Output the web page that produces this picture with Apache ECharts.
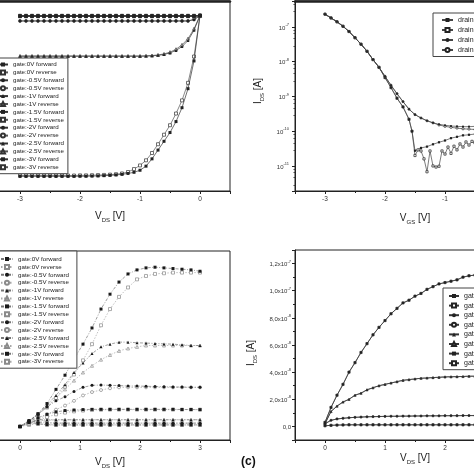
<!DOCTYPE html>
<html><head><meta charset="utf-8">
<script src="https://cdn.jsdelivr.net/npm/echarts@6/dist/echarts.min.js"></script>
<style>html,body{margin:0;padding:0;background:#fff}#c{width:474px;height:474px}</style>
</head><body><div id="c"></div>
<script>
// ---------- Panel A : output curves, negative V_DS (y axis off-picture) ----------
const aV = [-3.0,-2.9,-2.8,-2.7,-2.6,-2.5,-2.4,-2.3,-2.2,-2.1,-2.0,-1.9,-1.8,-1.7,-1.6,-1.5,-1.4,-1.3,-1.2,-1.1,-1.0,-0.9,-0.8,-0.7,-0.6,-0.5,-0.4,-0.3,-0.2,-0.1,0.0];
const aG0F  = [-0.01,-0.01,-0.01,-0.01,-0.01,-0.01,-0.01,-0.01,-0.01,-0.01,-0.01,-0.01,-0.01,-0.01,-0.01,-0.01,-0.01,-0.01,-0.01,-0.01,-0.01,-0.01,-0.01,-0.01,-0.01,-0.01,-0.01,-0.01,-0.01,-0.01,0];
const aG0R  = [-0.01,-0.01,-0.01,-0.01,-0.01,-0.01,-0.01,-0.01,-0.01,-0.01,-0.01,-0.01,-0.01,-0.01,-0.01,-0.01,-0.01,-0.01,-0.01,-0.01,-0.01,-0.01,-0.01,-0.01,-0.01,-0.01,-0.01,-0.01,-0.01,-0.01,0];
const aG05F = [-0.02,-0.02,-0.02,-0.02,-0.02,-0.02,-0.02,-0.02,-0.02,-0.02,-0.02,-0.02,-0.02,-0.02,-0.02,-0.02,-0.02,-0.02,-0.02,-0.02,-0.02,-0.02,-0.02,-0.02,-0.02,-0.02,-0.02,-0.02,-0.02,-0.02,0];
const aG05R = [-0.02,-0.02,-0.02,-0.02,-0.02,-0.02,-0.02,-0.02,-0.02,-0.02,-0.02,-0.02,-0.02,-0.02,-0.02,-0.02,-0.02,-0.02,-0.02,-0.02,-0.02,-0.02,-0.02,-0.02,-0.02,-0.02,-0.02,-0.02,-0.02,-0.02,0];
const aG1F  = [-0.03,-0.03,-0.03,-0.03,-0.03,-0.03,-0.03,-0.03,-0.03,-0.03,-0.03,-0.03,-0.03,-0.03,-0.03,-0.03,-0.03,-0.03,-0.03,-0.03,-0.03,-0.03,-0.03,-0.03,-0.03,-0.03,-0.03,-0.03,-0.03,-0.03,0];
const aG1R  = [-0.03,-0.03,-0.03,-0.03,-0.03,-0.03,-0.03,-0.03,-0.03,-0.03,-0.03,-0.03,-0.03,-0.03,-0.03,-0.03,-0.03,-0.03,-0.03,-0.03,-0.03,-0.03,-0.03,-0.03,-0.03,-0.03,-0.03,-0.03,-0.03,-0.03,0];
const aG15F = [-0.04,-0.04,-0.04,-0.04,-0.04,-0.04,-0.04,-0.04,-0.04,-0.04,-0.04,-0.04,-0.04,-0.04,-0.04,-0.04,-0.04,-0.04,-0.04,-0.04,-0.04,-0.04,-0.04,-0.04,-0.04,-0.04,-0.04,-0.04,-0.04,-0.04,0];
const aG15R = [-0.04,-0.04,-0.04,-0.04,-0.04,-0.04,-0.04,-0.04,-0.04,-0.04,-0.04,-0.04,-0.04,-0.04,-0.04,-0.04,-0.04,-0.04,-0.04,-0.04,-0.04,-0.04,-0.04,-0.04,-0.04,-0.04,-0.04,-0.04,-0.04,-0.04,0];
const aG2F  = [-0.37,-0.37,-0.37,-0.37,-0.37,-0.37,-0.37,-0.37,-0.37,-0.37,-0.37,-0.37,-0.37,-0.37,-0.37,-0.37,-0.37,-0.37,-0.37,-0.37,-0.37,-0.37,-0.37,-0.37,-0.37,-0.37,-0.37,-0.37,-0.37,-0.28,0];
const aG2R  = [-0.36,-0.36,-0.36,-0.36,-0.36,-0.36,-0.36,-0.36,-0.36,-0.36,-0.36,-0.36,-0.36,-0.36,-0.36,-0.36,-0.36,-0.36,-0.36,-0.36,-0.36,-0.36,-0.36,-0.36,-0.36,-0.36,-0.36,-0.36,-0.36,-0.25,0];
const aG25F = [-2.78,-2.78,-2.78,-2.78,-2.78,-2.78,-2.78,-2.78,-2.78,-2.78,-2.78,-2.78,-2.78,-2.78,-2.78,-2.78,-2.78,-2.78,-2.78,-2.78,-2.78,-2.77,-2.75,-2.72,-2.66,-2.55,-2.38,-2.12,-1.7,-1.0,0];
const aG25R = [-2.76,-2.76,-2.76,-2.76,-2.76,-2.76,-2.76,-2.76,-2.76,-2.76,-2.76,-2.76,-2.76,-2.76,-2.76,-2.76,-2.76,-2.76,-2.76,-2.76,-2.76,-2.75,-2.73,-2.69,-2.62,-2.5,-2.3,-2.0,-1.58,-0.9,0];
const aG3F  = [-11.0,-11.0,-11.0,-11.0,-11.0,-11.0,-11.0,-11.0,-11.0,-11.0,-10.99,-10.99,-10.98,-10.97,-10.95,-10.93,-10.9,-10.86,-10.8,-10.72,-10.58,-10.3,-9.8,-9.2,-8.6,-8.0,-7.25,-6.3,-5.0,-3.1,0];
const aG3R  = [-10.94,-10.94,-10.94,-10.94,-10.94,-10.94,-10.94,-10.94,-10.94,-10.94,-10.93,-10.93,-10.92,-10.91,-10.9,-10.88,-10.85,-10.8,-10.7,-10.5,-10.25,-9.9,-9.4,-8.8,-8.15,-7.5,-6.7,-5.8,-4.6,-2.8,0];

// ---------- Panel B : transfer curves (log current) ----------
const bVshared = [-3.0,-2.9,-2.8,-2.7,-2.6,-2.5,-2.4,-2.3,-2.2,-2.1];
const bIshared = [2.34e-7,1.82e-7,1.41e-7,1.05e-7,7.4e-8,4.9e-8,3.2e-8,2.0e-8,1.15e-8,6.9e-9];
const bVup  = [-2.0,-1.9,-1.8,-1.7,-1.6,-1.5,-1.4,-1.3,-1.2,-1.1,-1.0,-0.9,-0.8,-0.7,-0.6,-0.5,-0.4,-0.3,-0.2,-0.1,0.0];
const bIupF = [3.8e-9,2.1e-9,1.2e-9,7.1e-10,4.3e-10,3.0e-10,2.4e-10,2.0e-10,1.74e-10,1.58e-10,1.48e-10,1.41e-10,1.38e-10,1.35e-10,1.35e-10,1.38e-10,1.41e-10,1.45e-10,1.48e-10,1.51e-10,1.58e-10];
const bIupR = [3.8e-9,2.1e-9,1.2e-9,7.1e-10,4.3e-10,3.0e-10,2.4e-10,2.0e-10,1.74e-10,1.51e-10,1.38e-10,1.29e-10,1.23e-10,1.17e-10,1.15e-10,1.12e-10,1.12e-10,1.12e-10,1.15e-10,1.17e-10,1.2e-10];
const bVlow = [-2.0,-1.9,-1.8,-1.7,-1.6,-1.55];
const bIlow = [3.5e-9,1.8e-9,8.9e-10,5.0e-10,2.2e-10,1.0e-10];
const bVsqF = [-1.5,-1.4,-1.3,-1.2,-1.1,-1.0,-0.9,-0.8,-0.7,-0.6,-0.5,-0.4,-0.3,-0.2,-0.1,0.0];
const bIsqF = [2.75e-11,3.3e-11,3.6e-11,4.2e-11,4.8e-11,5.4e-11,6.3e-11,6.9e-11,7.6e-11,7.9e-11,8.3e-11,8.7e-11,9.1e-11,9.5e-11,1.0e-10,1.05e-10];
const bVsqR = [-1.5,-1.45,-1.4,-1.35,-1.3,-1.25,-1.2,-1.15,-1.1,-1.05,-1.0,-0.95,-0.9,-0.85,-0.8,-0.75,-0.7,-0.65,-0.6,-0.55,-0.5,-0.4,-0.3,-0.2,-0.1,0.0];
const bIsqR = [2.0e-11,2.9e-11,2.7e-11,1.6e-11,6.8e-12,2.7e-11,1.0e-11,9.3e-12,9.8e-12,2.7e-11,2.2e-11,3.5e-11,2.3e-11,3.7e-11,2.9e-11,4.3e-11,3.5e-11,4.9e-11,4.0e-11,5.1e-11,4.6e-11,5.2e-11,5.8e-11,6.3e-11,6.8e-11,7.2e-11];

// ---------- Panel C : output curves, positive V_DS (values in 1e-7 A) ----------
const cV = [0,0.15,0.3,0.45,0.6,0.75,0.9,1.05,1.2,1.35,1.5,1.65,1.8,1.95,2.1,2.25,2.4,2.55,2.7,2.85,3.0];
const cG0F  = [0,0.03,0.02,0.014,0.012,0.012,0.012,0.012,0.012,0.012,0.012,0.012,0.012,0.012,0.012,0.012,0.012,0.012,0.012,0.012,0.012];
const cG0R  = [0,0.012,0.02,0.012,0.011,0.011,0.011,0.011,0.011,0.011,0.011,0.011,0.011,0.011,0.011,0.011,0.011,0.011,0.011,0.011,0.011];
const cG05F = [0,0.045,0.03,0.026,0.025,0.025,0.025,0.025,0.025,0.025,0.025,0.025,0.025,0.025,0.025,0.025,0.025,0.025,0.025,0.025,0.025];
const cG05R = [0,0.02,0.06,0.03,0.025,0.025,0.025,0.025,0.025,0.025,0.025,0.025,0.025,0.025,0.025,0.025,0.025,0.025,0.025,0.025,0.025];
const cG1F  = [0,0.03,0.05,0.05,0.05,0.05,0.05,0.05,0.05,0.05,0.05,0.05,0.05,0.05,0.05,0.05,0.05,0.05,0.05,0.05,0.05];
const cG1R  = [0,0.02,0.035,0.045,0.05,0.05,0.05,0.05,0.05,0.05,0.05,0.05,0.05,0.05,0.05,0.05,0.05,0.05,0.05,0.05,0.05];
const cG15F = [0,0.04,0.065,0.09,0.108,0.118,0.122,0.125,0.127,0.127,0.127,0.127,0.127,0.127,0.127,0.127,0.127,0.127,0.126,0.126,0.125];
const cG15R = [0,0.02,0.045,0.07,0.09,0.103,0.112,0.118,0.122,0.124,0.125,0.125,0.125,0.125,0.125,0.125,0.125,0.125,0.125,0.125,0.125];
const cG2F  = [0,0.04,0.09,0.145,0.19,0.22,0.26,0.29,0.305,0.307,0.305,0.303,0.30,0.30,0.298,0.296,0.295,0.293,0.292,0.291,0.29];
const cG2R  = [0,0.02,0.05,0.09,0.125,0.155,0.19,0.23,0.255,0.27,0.283,0.29,0.29,0.29,0.29,0.29,0.29,0.29,0.29,0.29,0.29];
const cG25F = [0,0.04,0.09,0.16,0.23,0.31,0.40,0.47,0.54,0.59,0.61,0.625,0.625,0.62,0.618,0.615,0.612,0.61,0.605,0.60,0.60];
const cG25R = [0,0.03,0.09,0.15,0.21,0.275,0.34,0.40,0.45,0.495,0.53,0.56,0.578,0.59,0.60,0.60,0.60,0.60,0.60,0.60,0.60];
const cG3F  = [0,0.04,0.095,0.17,0.275,0.38,0.50,0.61,0.73,0.87,0.98,1.07,1.13,1.16,1.175,1.18,1.175,1.17,1.165,1.16,1.15];
const cG3R  = [0,0.04,0.09,0.14,0.21,0.295,0.385,0.49,0.61,0.75,0.87,0.96,1.03,1.09,1.115,1.13,1.135,1.14,1.14,1.14,1.14];

// ---------- Panel D : output curves (values in 1e-7 A) ----------
const dV = [0,0.1,0.2,0.3,0.4,0.5,0.6,0.7,0.8,0.9,1.0,1.1,1.2,1.3,1.4,1.5,1.6,1.7,1.8,1.9,2.0,2.1,2.2,2.3,2.4,2.5,2.6,2.7,2.8,2.9,3.0];
const dG0 = [0.005,0.008,0.01,0.011,0.012,0.012,0.012,0.012,0.012,0.012,0.012,0.012,0.012,0.012,0.012,0.012,0.012,0.012,0.012,0.012,0.012,0.012,0.012,0.012,0.012,0.012,0.012,0.012,0.012,0.012,0.012];
const dG1 = [0.02,0.045,0.055,0.06,0.064,0.067,0.069,0.071,0.072,0.073,0.074,0.075,0.075,0.076,0.076,0.077,0.077,0.078,0.078,0.078,0.079,0.079,0.079,0.08,0.08,0.08,0.08,0.08,0.08,0.08,0.08];
const dG2 = [0.02,0.11,0.15,0.18,0.20,0.23,0.245,0.27,0.285,0.30,0.31,0.32,0.33,0.34,0.345,0.35,0.355,0.357,0.36,0.362,0.365,0.366,0.367,0.368,0.37,0.37,0.37,0.37,0.37,0.37,0.37];
const dG3 = [0.03,0.14,0.23,0.31,0.40,0.47,0.545,0.61,0.675,0.73,0.78,0.83,0.87,0.91,0.93,0.96,0.98,1.01,1.03,1.05,1.06,1.07,1.08,1.10,1.11,1.115,1.12,1.125,1.13,1.135,1.14];

const cGateNames = ['gate:0V','gate:-0.5V','gate:-1V','gate:-1.5V','gate:-2V','gate:-2.5V','gate:-3V'];
const dGateNames = ['gate:0V','gate:-1V','gate:-2V','gate:-3V'];
const bNames = ['drain:-0.1V forward','drain:-0.1V reverse','drain:-1V forward','drain:-1V reverse'];
const gateSyms = ['rect','circle','triangle','rect','circle','triangle','rect'];

// ------------------------------------------------------------
const F = 'Liberation Sans, Arial, sans-serif';
const pairs = (xs, ys) => xs.map((x, i) => [x, ys[i]]);

function mk(name, gi, data, sym, open, size, mc, lc, lw, lt, z) {
  return {
    type: 'line', name, xAxisIndex: gi, yAxisIndex: gi, data,
    symbol: sym, symbolSize: size, showAllSymbol: true,
    itemStyle: { color: open ? '#fff' : mc, borderColor: mc, borderWidth: open ? 0.7 : 0 },
    lineStyle: { color: lc, width: lw, type: lt },
    emphasis: { disabled: true }, silent: true, z: z || 2
  };
}

const series = [];
// A
const aF = [aG0F, aG05F, aG1F, aG15F, aG2F, aG25F, aG3F];
const aR = [aG0R, aG05R, aG1R, aG15R, aG2R, aG25R, aG3R];
const aLeg = [], cLeg = [], dLeg = [], bLeg = [];
for (let g = 0; g < 7; g++) {
  series.push(mk('A|' + cGateNames[g] + ' reverse', 0, pairs(aV, aR[g]), gateSyms[g], true, 3, '#333', '#555', 0.7, 'solid'));
  series.push(mk('A|' + cGateNames[g] + ' forward', 0, pairs(aV, aF[g]), gateSyms[g], false, 3, '#222', '#333', 0.7, 'solid', 3));
  aLeg.push('A|' + cGateNames[g] + ' forward', 'A|' + cGateNames[g] + ' reverse');
}
// B
const bUpF = pairs(bVshared.concat(bVup), bIshared.concat(bIupF));
const bUpR = pairs(bVshared.concat(bVup), bIshared.concat(bIupR));
const bSqF = pairs(bVshared.concat(bVlow, bVsqF), bIshared.concat(bIlow, bIsqF));
const bSqR = pairs(bVshared.concat(bVlow, bVsqR), bIshared.concat(bIlow, bIsqR));
series.push(mk('B|' + bNames[1], 1, bSqR, 'rect', true, 2.2, '#222', '#444', 0.7, 'solid'));
series.push(mk('B|' + bNames[0], 1, bSqF, 'rect', false, 2.2, '#222', '#444', 0.7, 'solid'));
series.push(mk('B|' + bNames[3], 1, bUpR, 'circle', true, 2.2, '#222', '#444', 0.7, 'solid'));
series.push(mk('B|' + bNames[2], 1, bUpF, 'circle', false, 2.2, '#222', '#444', 0.7, 'solid'));
bLeg.push('B|' + bNames[0], 'B|' + bNames[1], 'B|' + bNames[2], 'B|' + bNames[3]);
// C
const cF = [cG0F, cG05F, cG1F, cG15F, cG2F, cG25F, cG3F];
const cR = [cG0R, cG05R, cG1R, cG15R, cG2R, cG25R, cG3R];
for (let g = 0; g < 7; g++) {
  series.push(mk('C|' + cGateNames[g] + ' reverse', 2, pairs(cV, cR[g]), gateSyms[g], true, 3, '#8a8a8a', '#a8a8a8', 0.7, [1.5, 1.5]));
  series.push(mk('C|' + cGateNames[g] + ' forward', 2, pairs(cV, cF[g]), gateSyms[g], false, 3, '#1a1a1a', '#777', 0.7, [3, 1.5, 1, 1.5], 3));
  cLeg.push('C|' + cGateNames[g] + ' forward', 'C|' + cGateNames[g] + ' reverse');
}
// D
const dData = [dG0, dG1, dG2, dG3];
const dSyms = ['rect', 'circle', 'triangle', 'rect'];
for (let g = 0; g < 4; g++) {
  series.push(mk('D|' + dGateNames[g] + ' reverse', 3, pairs(dV, dData[g]), dSyms[g], true, 2.2, '#222', '#333', 0.7, 'solid'));
  series.push(mk('D|' + dGateNames[g] + ' forward', 3, pairs(dV, dData[g]), dSyms[g], false, 2.2, '#222', '#333', 0.7, 'solid', 3));
  dLeg.push('D|' + dGateNames[g] + ' forward', 'D|' + dGateNames[g] + ' reverse');
}

// ---------- axes ----------
const nameRich = {
  v: { fontFamily: F, fontSize: 10, color: '#222', lineHeight: 14, verticalAlign: 'middle' },
  d: { fontFamily: F, fontSize: 6, color: '#222', lineHeight: 6, verticalAlign: 'bottom' }
};
const intLabel = v => Math.abs(v - Math.round(v)) < 1e-6 ? String(Math.round(v)) : '';
function xAx(gi, min, max, vname, gap) {
  return {
    type: 'value', gridIndex: gi, min, max, splitNumber: 4,
    axisLine: { show: true, onZero: false, lineStyle: { color: '#222', width: 1.2 } },
    axisTick: { show: true, inside: false, length: 3, lineStyle: { color: '#222', width: 1 } },
    minorTick: { show: true, splitNumber: 2, length: 2, lineStyle: { color: '#222', width: 1 } },
    splitLine: { show: false }, minorSplitLine: { show: false },
    axisLabel: { show: true, margin: 5, fontFamily: F, fontSize: 6.5, color: '#333', formatter: intLabel },
    name: '{v|V}{d|' + vname + '}{v| [V]}', nameLocation: 'middle', nameGap: gap,
    nameTextStyle: { rich: nameRich }
  };
}
// thick top frame line for the two upper panels
function topAx(gi, min, max) {
  return {
    type: 'value', gridIndex: gi, min, max, position: 'top',
    axisLine: { show: true, onZero: false, lineStyle: { color: '#222', width: 2.5 } },
    axisTick: { show: false }, axisLabel: { show: false }, splitLine: { show: false }
  };
}
const supRich = {
  m: { fontFamily: F, fontSize: 6, color: '#333', lineHeight: 8, verticalAlign: 'bottom' },
  s: { fontFamily: F, fontSize: 4, color: '#333', lineHeight: 4, verticalAlign: 'top' }
};
const xAxes = [xAx(0, -3.5, 0.5, 'DS', 18), xAx(1, -3.5, 0.5, 'GS', 20), xAx(2, -0.5, 3.5, 'DS', 15), xAx(3, -0.5, 3.5, 'DS', 10),
               topAx(0, -3.5, 0.5), topAx(1, -3.5, 0.5)];
const yAxes = [
  { type: 'value', gridIndex: 0, min: -12, max: 1, show: false, splitLine: { show: false } },
  {
    type: 'log', gridIndex: 1, min: 1.9e-12, max: 5.6e-7, logBase: 10, splitNumber: 5,
    axisLine: { show: true, onZero: false, lineStyle: { color: '#222', width: 1 } },
    axisTick: { show: true, inside: false, length: 3, lineStyle: { color: '#222' } },
    minorTick: { show: true, splitNumber: 5, length: 1.5, lineStyle: { color: '#444' } },
    splitLine: { show: false }, minorSplitLine: { show: false },
    axisLabel: {
      margin: 6, rich: supRich,
      formatter: v => { const e = Math.log10(v); const r = Math.round(e); return Math.abs(e - r) < 0.01 ? '{m|10}{s|' + r + '}' : ''; }
    },
    name: '{v|I}{d|DS}{v| [A]}', nameLocation: 'middle', nameGap: 26,
    nameTextStyle: { rich: nameRich, padding: [0, 0, 0, 10] }
  },
  { type: 'value', gridIndex: 2, min: -0.1, max: 1.3, show: false, splitLine: { show: false } },
  {
    type: 'value', gridIndex: 3, min: -0.1, max: 1.3, splitNumber: 7,
    axisLine: { show: true, onZero: false, lineStyle: { color: '#222', width: 1 } },
    axisTick: { show: true, inside: false, length: 3, lineStyle: { color: '#222' } },
    minorTick: { show: true, splitNumber: 2, length: 2, lineStyle: { color: '#222' } },
    splitLine: { show: false }, minorSplitLine: { show: false },
    axisLabel: {
      margin: 4, rich: supRich,
      formatter: v => {
        if (Math.abs(v) < 1e-9) return '{m|0,0}';
        if (Math.abs(v * 5 - Math.round(v * 5)) > 1e-6) return '';
        const A = v * 1e-7; const e = Math.floor(Math.log10(A) + 1e-9);
        const m = (A / Math.pow(10, e)).toFixed(1).replace('.', ',');
        return '{m|' + m + 'x10}{s|' + e + '}';
      }
    },
    name: '{v|I}{d|DS}{v| [A]}', nameLocation: 'middle', nameGap: 33,
    nameTextStyle: { rich: nameRich, padding: [0, 16, 0, 0] }
  }
];

function lg(names, left, top, iw, ih, gap, fs, lh, pad) {
  return {
    orient: 'vertical', left, top, data: names, itemWidth: iw, itemHeight: ih, itemGap: gap,
    padding: pad, borderColor: '#444', borderWidth: 1, backgroundColor: '#fff',
    textStyle: { fontFamily: F, fontSize: fs, color: '#222', lineHeight: lh },
    formatter: n => n.slice(2), selectedMode: false, align: 'left'
  };
}

const grid = (left, top, width, height) => ({ left, top, width, height, show: true, borderColor: '#222', borderWidth: 1, backgroundColor: 'transparent', containLabel: false, outerBoundsMode: 'none' });

const chart = echarts.init(document.getElementById('c'), null, { renderer: 'canvas' });
chart.setOption({
  animation: false,
  backgroundColor: '#fff',
  textStyle: { fontFamily: F },
  grid: [grid(-10, 1, 240, 190), grid(295, 1, 240, 190), grid(-10, 251, 240, 189), grid(295, 250, 240, 190)],
  xAxis: xAxes,
  yAxis: yAxes,
  legend: [
    lg(aLeg, -6, 58, 10, 5, 0.9, 6.2, 7, [3, 4, 3, 3]),
    lg(cLeg, -3, 251, 12, 5, 0.9, 6.2, 7, [4.5, 8, 3, 3]),
    lg(bLeg, 433, 13, 11, 5, 3, 7, 7, [3.5, 6, 3, 8]),
    lg(dLeg, 443, 288, 10, 5, 2.6, 7, 7, [4.5, 6, 3, 5])
  ],
  graphic: [{ type: 'text', left: 241, top: 456, style: { text: '(c)', font: 'bold 12px ' + F, fill: '#111' } }],
  series
});
</script></body></html>
